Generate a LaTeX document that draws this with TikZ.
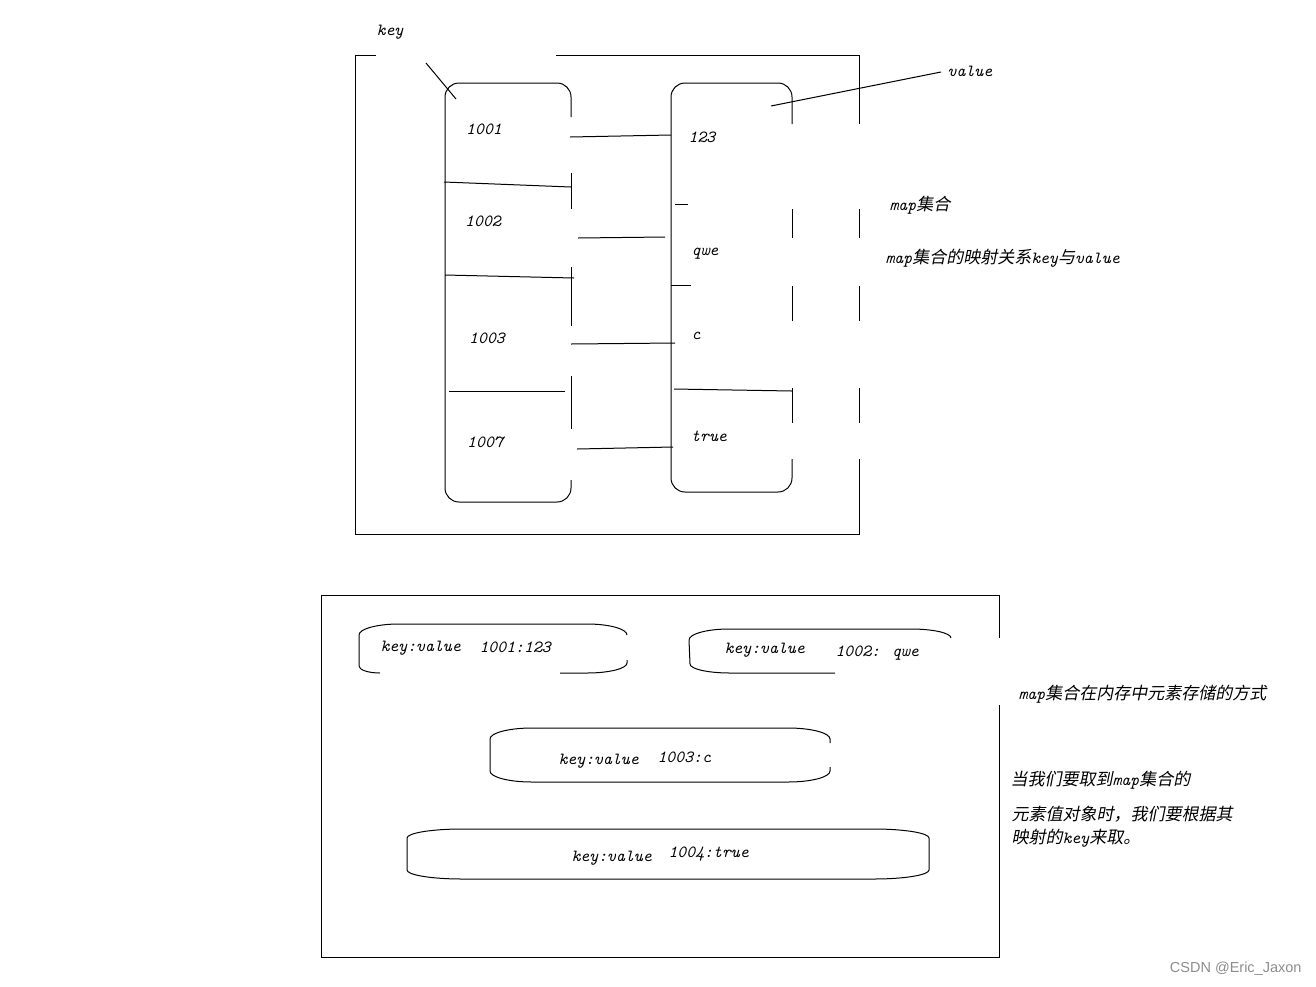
\documentclass[tikz,border=0pt]{standalone}
\usepackage{fontspec}
\usepackage{tikz}
\newfontfamily\cjk[FakeSlant=0.2]{Noto Sans CJK SC}
\newcommand{\zh}[1]{{\cjk\fontsize{17}{20}\selectfont #1}}

\begin{document}
\begin{tikzpicture}[x=1pt,y=-1pt,line width=1pt,black]
   \tikzstyle{lbl}=[font=\fontsize{17}{20}\selectfont\ttfamily\itshape,inner sep=0pt,xshift=-1pt]
   \tikzstyle{note}=[lbl,anchor=west]
   \tikzstyle{box}=[rounded corners=14pt]

   \useasboundingbox (0,0) rectangle (1316,986);

   % upper frame
   \draw (376,55) -- (355,55) -- (355,534) -- (859,534) -- (859,459);
   \draw (556,55) -- (859,55) -- (859,124);
   \draw (859,209) -- (859,238);
   \draw (859,286) -- (859,321);
   \draw (859,388) -- (859,423);

   % key column
   \draw[box] (571,117) -- (571,83) -- (445,83) -- (445,502) -- (571,502) -- (571,480);
   \draw (571,173) -- (571,209);
   \draw (571,267) -- (571,326);
   \draw (571,376) -- (571,429);
   \draw (444,182) -- (571,187);
   \draw (445,275) -- (574,278);
   \draw (449,391) -- (565,391);

   % value column
   \draw[box] (792,124) -- (792,83) -- (671,83) -- (671,492) -- (792,492) -- (792,459);
   \draw (792,209) -- (792,238);
   \draw (792,286) -- (792,321);
   \draw (792,388) -- (792,423);
   \draw (675,204) -- (688,204);
   \draw (671,285) -- (691,285);
   \draw (674,389) -- (792,391);

   \node[lbl] (key)   at (391,32)  {key};
   \node[lbl] (value) at (971,71)  {value};
   \node[lbl] (k1) at (485,129) {1001};
   \node[lbl] (k2) at (484,221) {1002};
   \node[lbl] (k3) at (488,338) {1003};
   \node[lbl] (k4) at (486,442) {1007};
   \node[lbl] (v1) at (703,137) {123};
   \node[lbl] (v2) at (706,254) {qwe};
   \node[lbl] (v3) at (697,336) {c};
   \node[lbl] (v4) at (710,436) {true};

   \coordinate (keyA) at (426,63);
   \coordinate (keyB) at (456,99);
   \coordinate (valA) at (941,72);
   \coordinate (valB) at (771,106);
   \coordinate (a1) at (570,137);
   \coordinate (b1) at (671,135);
   \coordinate (a2) at (578,238);
   \coordinate (b2) at (665,237);
   \coordinate (a3) at (571,344);
   \coordinate (b3) at (675,343);
   \coordinate (a4) at (577,449);
   \coordinate (b4) at (673,447);

   \path[draw] (keyA) edge (keyB)
               (valA) edge (valB)
               (a1) edge (b1)
               (a2) edge (b2)
               (a3) edge (b3)
               (a4) edge (b4);

   \node[note] (n1) at (890,205) {map\zh{集合}};
   \node[note] (n2) at (886,258) {map\zh{集合的映射关系}key\zh{与}value};

   % lower frame
   \draw (999,638) -- (999,595) -- (321,595) -- (321,957) -- (999,957) -- (999,705);

   % records
   \draw (380,673) arc[start angle=90,end angle=180,x radius=21,y radius=7] -- (359,635)
         arc[start angle=180,end angle=270,x radius=40,y radius=11] -- (587,624)
         arc[start angle=270,end angle=360,x radius=40,y radius=11];
   \draw (627,660) -- (627,663) arc[start angle=0,end angle=90,x radius=40,y radius=10] -- (560,673);

   \draw (835,673) -- (730,673) arc[start angle=90,end angle=180,x radius=40,y radius=9] -- (689,640)
         arc[start angle=180,end angle=270,x radius=40,y radius=11] -- (911,629)
         arc[start angle=270,end angle=360,x radius=40,y radius=9];

   \draw (830,743) -- (830,739) arc[start angle=360,end angle=270,x radius=42,y radius=11] -- (532,728)
         arc[start angle=270,end angle=180,x radius=42,y radius=11] -- (490,771)
         arc[start angle=180,end angle=90,x radius=42,y radius=11] -- (788,782)
         arc[start angle=90,end angle=0,x radius=42,y radius=11] -- (830,767);

   \draw (407,838) arc[start angle=180,end angle=270,x radius=55,y radius=9] -- (874,829)
         arc[start angle=270,end angle=360,x radius=55,y radius=9] -- (929,870)
         arc[start angle=0,end angle=90,x radius=55,y radius=9] -- (462,879)
         arc[start angle=90,end angle=180,x radius=55,y radius=9] -- cycle;

   \node[note] (r1a) at (381,648) {key:value};
   \node[note] (r1b) at (480,647) {1001:123};
   \node[note] (r2a) at (725,650) {key:value};
   \node[note] (r2b) at (836,653) {1002: qwe};
   \node[note] (r3a) at (559,761) {key:value};
   \node[note] (r3b) at (658,757) {1003:c};
   \node[note] (r4a) at (572,858) {key:value};
   \node[note] (r4b) at (669,854) {1004:true};

   \node[note] (n3) at (1019,694) {map\zh{集合在内存中元素存储的方式}};
   \node[note] (n4) at (1011,780) {\zh{当我们要取到}map\zh{集合的}};
   \node[note] (n5) at (1012,814) {\zh{元素值对象时，我们要根据其}};
   \node[note] (n6) at (1012,838) {\zh{映射的}key\zh{来取。}};

   \node[anchor=east,inner sep=0pt,text=black!45,font=\fontsize{14.5}{16}\selectfont\fontspec{Liberation Sans}] (mark) at (1302,969) {CSDN @Eric\_Jaxon};
\end{tikzpicture}
\end{document}
